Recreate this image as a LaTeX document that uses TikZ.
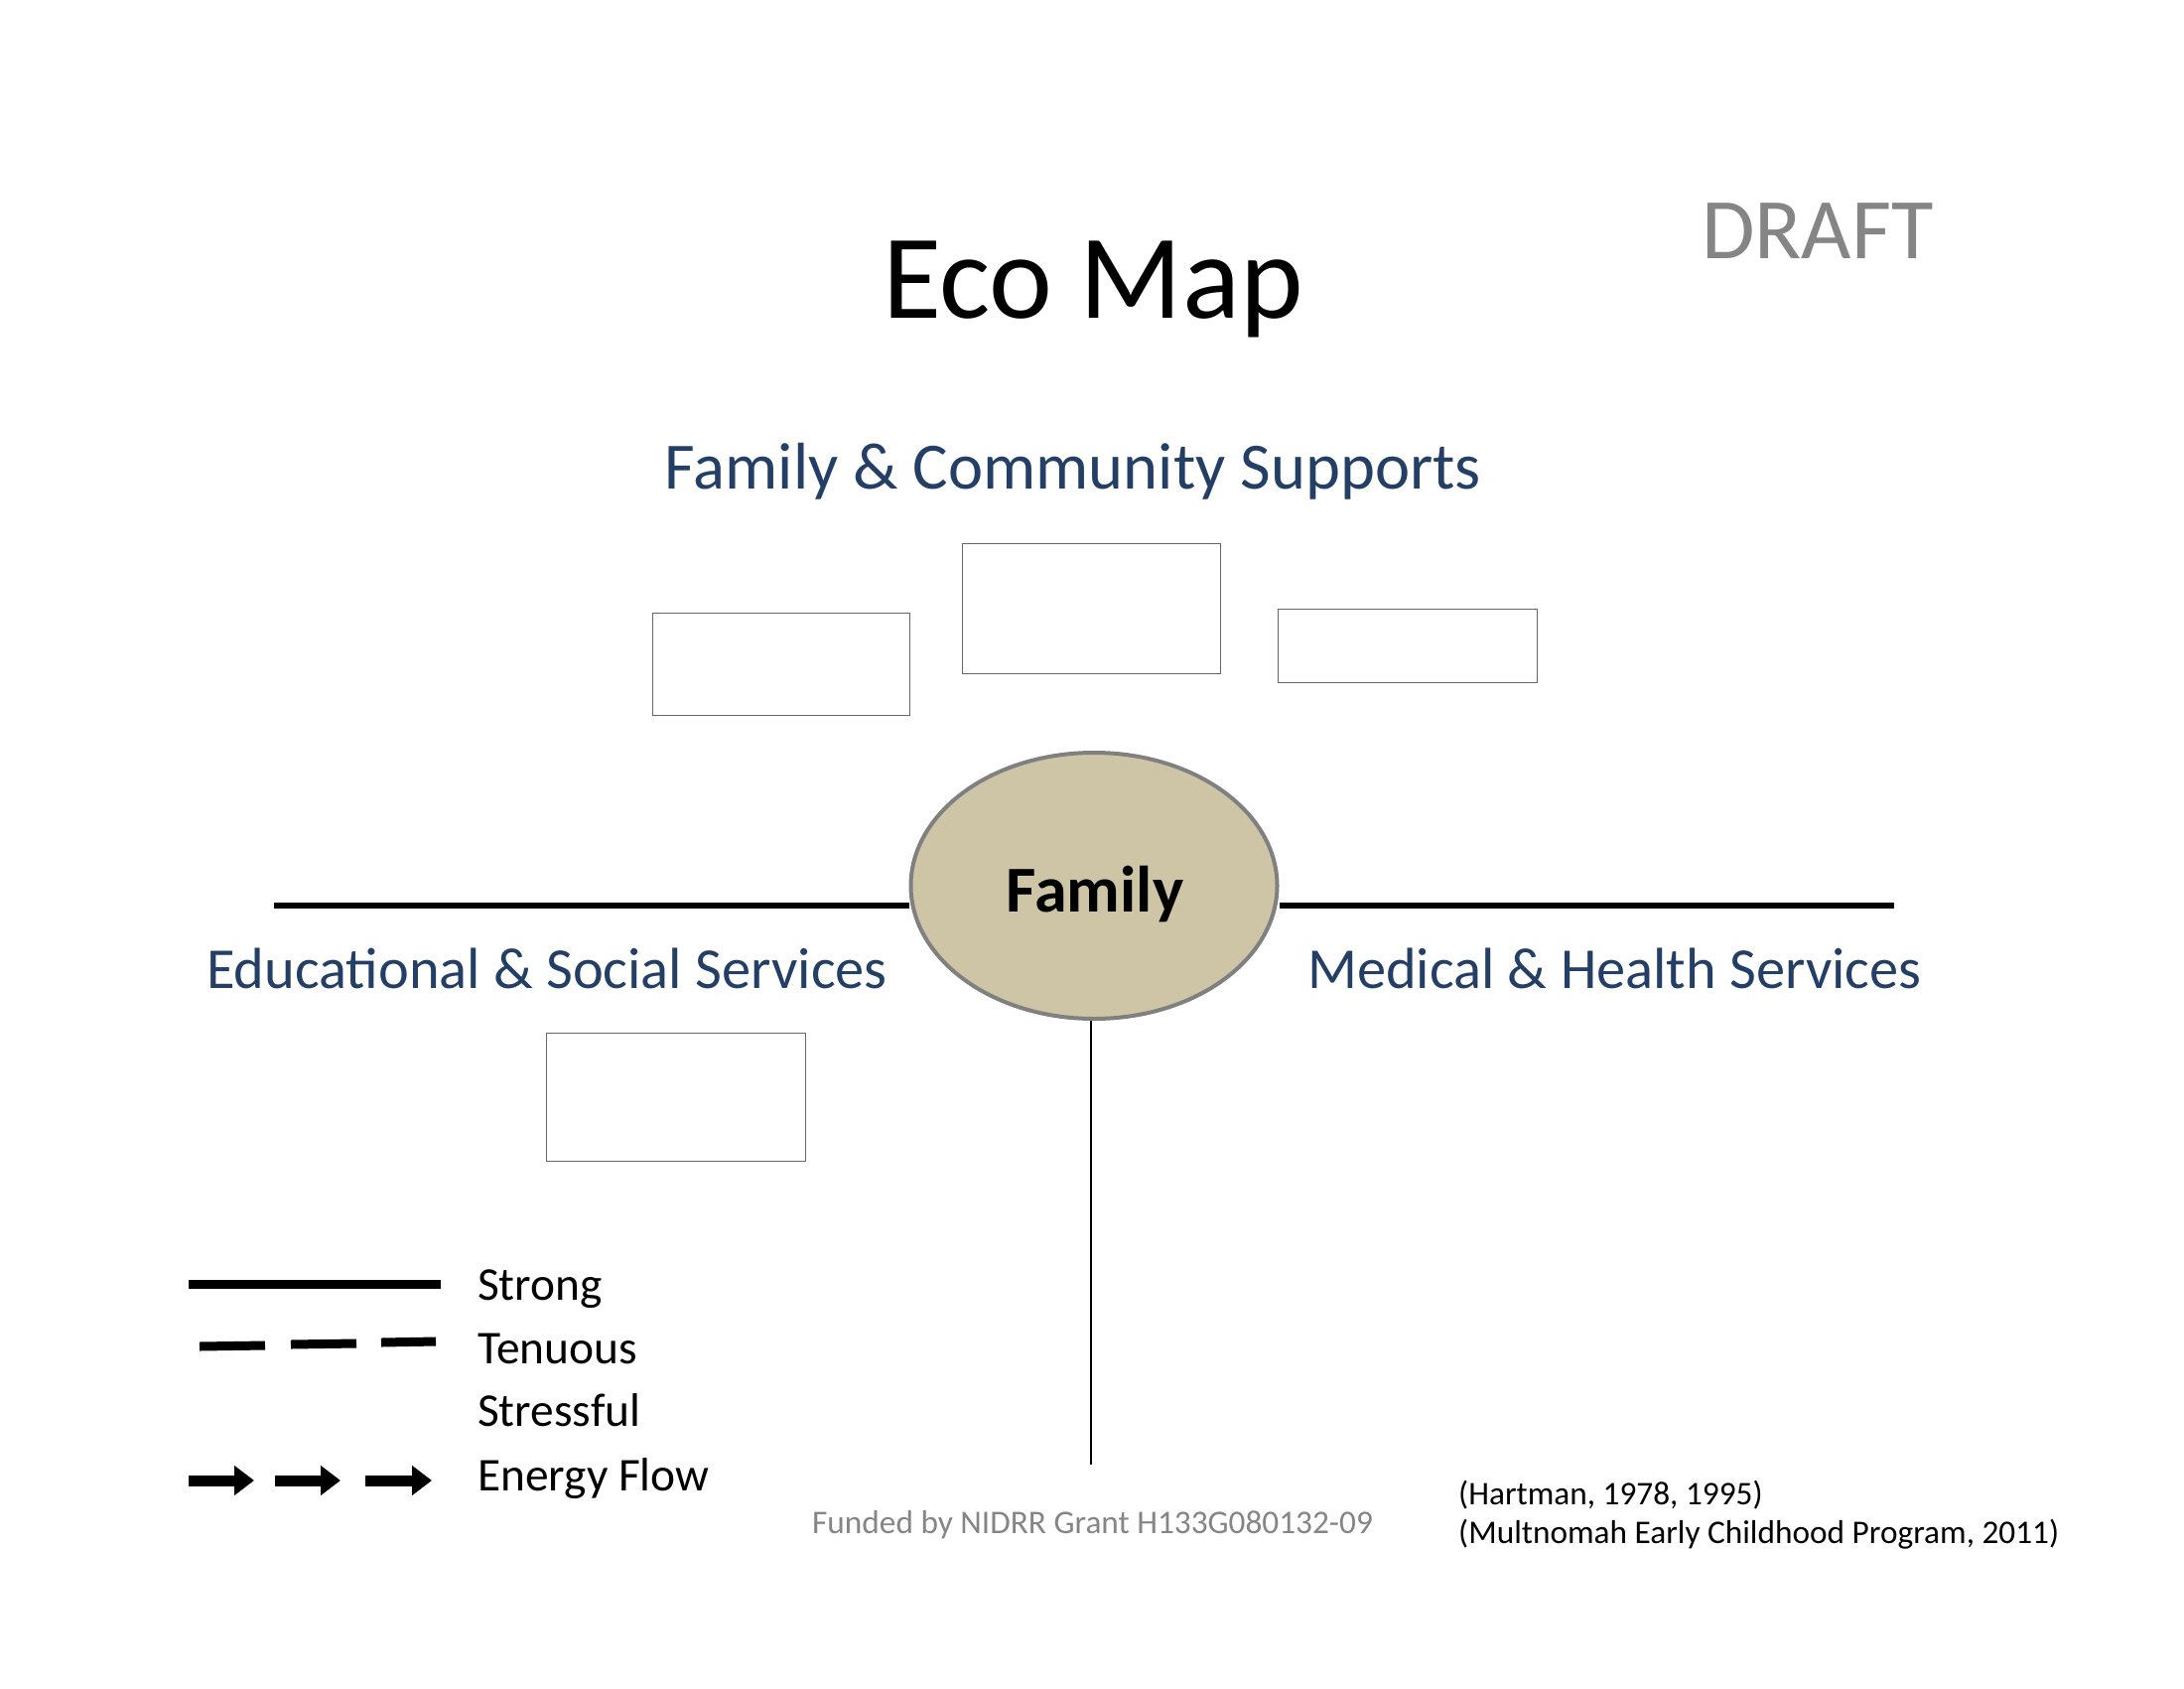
\documentclass[tikz,border=0pt]{standalone}
\usepackage{fontspec}
\setmainfont{Carlito}
\usetikzlibrary{arrows.meta,shapes.geometric}
\definecolor{labelblue}{HTML}{243F66}
\definecolor{famfill}{HTML}{CDC5A6}
\definecolor{famedge}{HTML}{808080}
\definecolor{draftgray}{HTML}{858585}
\begin{document}
\begin{tikzpicture}[x=1pt,y=-1pt,
  fs/.style={font=\fontsize{#1}{#1}\selectfont},
  txt/.style={inner sep=0pt,anchor=base west},
  ctxt/.style={inner sep=0pt,anchor=base},
  emptybox/.style={draw=black!60,line width=1pt,inner sep=0pt,anchor=north west},
  sector/.style={labelblue,inner sep=0pt,anchor=base west,fs=58.4},
  strongline/.style={line width=5.5pt,black},
  legline/.style={line width=9pt,black},
  flowarrow/.style={line width=11pt,-{Triangle[length=20pt,width=29pt]}}
]
\useasboundingbox (0,0) rectangle (2200,1700);

% titles
\node[ctxt,fs=121] (title) at (1101,320) {Eco Map};
\node[txt,fs=87,draftgray] (draft) at (1714,260) {DRAFT};
\node[ctxt,fs=66.6,labelblue] (fcs) at (1081,492) {Family \& Community Supports};

% empty boxes
\node[emptybox,minimum width=259pt,minimum height=103pt] (box1) at (657,617) {};
\node[emptybox,minimum width=260pt,minimum height=131pt] (box2) at (969,547) {};
\node[emptybox,minimum width=261pt,minimum height=74pt] (box3) at (1287,613) {};
\node[emptybox,minimum width=261pt,minimum height=129pt] (box4) at (550,1040) {};

% family ellipse
\node[ellipse,draw=famedge,fill=famfill,line width=4pt,minimum width=369pt,minimum height=268pt,inner sep=0pt] (family) at (1102,892) {};
\node[ctxt,fs=66,font=\fontsize{66}{66}\selectfont\bfseries] (famtext) at (1103,918) {Family};

% axes
\coordinate (lend) at (276,912);
\coordinate (rend) at (1908,912);
\coordinate (bend) at (1099,1475);
\draw[strongline] (family.west |- lend) -- (lend);
\draw[strongline] (family.east |- rend) -- (rend);
\draw[line width=2pt] (family.south -| bend) -- (bend);

% sector labels
\node[sector] (ess) at (208,995) {Educational \& Social Services};
\node[sector] (mhs) at (1317,995) {Medical \& Health Services};

% legend
\coordinate (s1) at (190,1293);
\coordinate (s2) at (444,1293);
\draw[legline] (s1) -- (s2);
\coordinate (t1a) at (201,1356); \coordinate (t1b) at (267,1355);
\coordinate (t2a) at (293,1354); \coordinate (t2b) at (359,1353);
\coordinate (t3a) at (384,1352); \coordinate (t3b) at (439,1351);
\draw[legline] (t1a) -- (t1b);
\draw[legline] (t2a) -- (t2b);
\draw[legline] (t3a) -- (t3b);
\coordinate (e1a) at (190,1491); \coordinate (e1b) at (256,1491);
\coordinate (e2a) at (277,1491); \coordinate (e2b) at (343,1491);
\coordinate (e3a) at (368,1491); \coordinate (e3b) at (435,1491);
\draw[flowarrow] (e1a) -- (e1b);
\draw[flowarrow] (e2a) -- (e2b);
\draw[flowarrow] (e3a) -- (e3b);

\node[txt,fs=47.4] (lstrong) at (481,1309) {Strong};
\node[txt,fs=47.4] (ltenuous) at (481,1373) {Tenuous};
\node[txt,fs=47.4] (lstress) at (481,1436) {Stressful};
\node[txt,fs=47.4] (lflow) at (481,1501) {Energy Flow};

% footer
\node[txt,fs=33.3,draftgray] (funded) at (818,1544) {Funded by NIDRR Grant H133G080132-09};
\node[txt,fs=33.3] (cite1) at (1469,1515) {(Hartman, 1978, 1995)};
\node[txt,fs=33.3] (cite2) at (1469,1554) {(Multnomah Early Childhood Program, 2011)};
\end{tikzpicture}
\end{document}
